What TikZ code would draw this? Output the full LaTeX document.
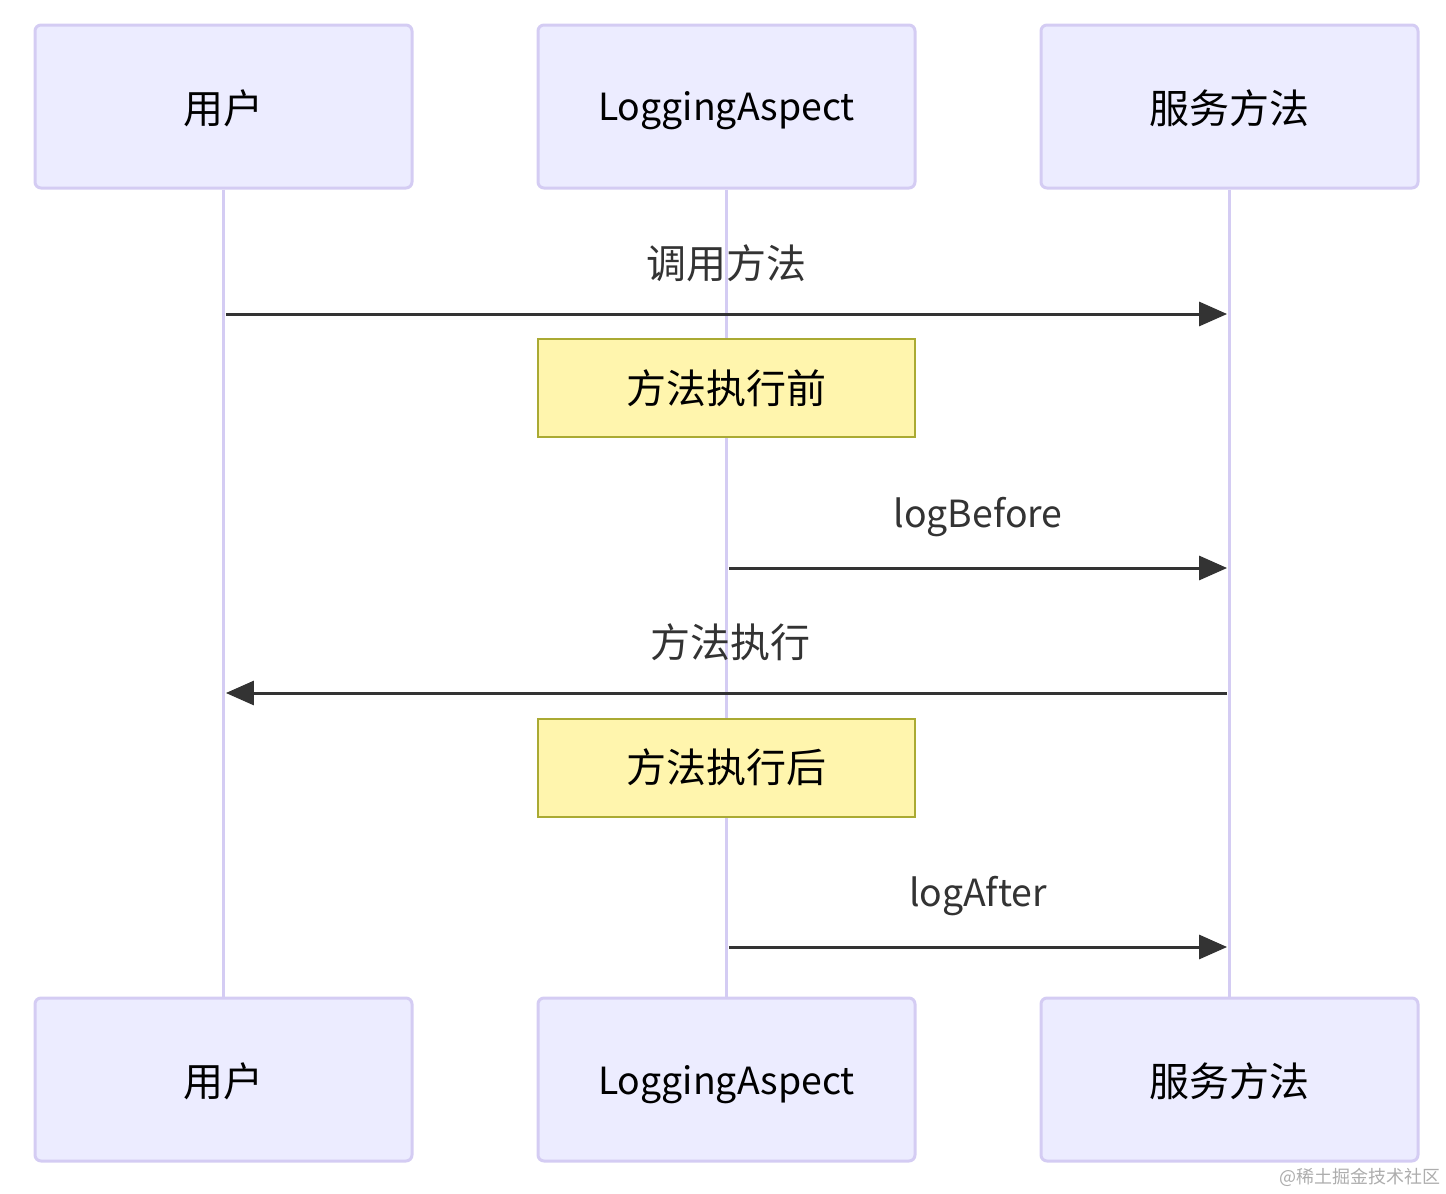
\documentclass[tikz,border=0pt]{standalone}
\usepackage{fontspec}
\setmainfont{Noto Sans CJK SC}
\usetikzlibrary{arrows.meta}
\definecolor{actorfill}{HTML}{ECECFF}
\definecolor{actorline}{HTML}{D4CCF3}
\definecolor{notefill}{HTML}{FFF5AD}
\definecolor{noteline}{HTML}{AAAA33}
\definecolor{msgline}{HTML}{333333}
\newcommand{\bigfont}{\fontsize{20}{24}\selectfont}
\newcommand{\latin}{\fontsize{18.7}{22}\selectfont}

\begin{document}
\begin{tikzpicture}[x=0.5pt,y=-0.5pt,node distance=251.5pt,
	actor/.style={draw=actorline,fill=actorfill,line width=1.5pt,rounded corners=3pt,minimum width=188.5pt,minimum height=81.5pt,font=\bigfont,text depth=0pt},
	note/.style={draw=noteline,fill=notefill,line width=1pt,minimum width=188.5pt,minimum height=49pt,font=\bigfont},
	life/.style={draw=actorline,line width=1.6pt},
	msg/.style={draw=msgline,line width=1.5pt,-{Triangle[length=14pt,width=12pt]},shorten <=1.2pt,shorten >=1.2pt},
	lbl/.style={font=\bigfont,text=msgline,yshift=25.5pt}]

\useasboundingbox (0,0) rectangle (1446,1194);

\node[actor](u1) at (223.5,106.5){用户};
\node[actor](la1)[right of=u1]{\latin LoggingAspect};
\node[actor](sm1)[right of=la1]{服务方法};
\node[actor](u2)[below of=u1,node distance=486.5pt]{用户};
\node[actor](la2)[right of=u2]{\latin LoggingAspect};
\node[actor](sm2)[right of=la2]{服务方法};

% lifelines
\draw[life](u1.south)--(u2.north);
\draw[life](la1.south)--(la2.north);
\draw[life](sm1.south)--(sm2.north);

% message heights
\coordinate(y1) at (0,314);
\coordinate(y2) at (0,568);
\coordinate(y3) at (0,693);
\coordinate(y4) at (0,947);

\node[note](n1) at (726.5,388){方法执行前};
\node[note](n2) at (726.5,767.5){方法执行后};

\path(u1|-y1)edge[msg] node[lbl]{调用方法}(sm1|-y1)
	 (la1|-y2)edge[msg] node[lbl]{\latin logBefore}(sm1|-y2)
	 (sm1|-y3)edge[msg] node[lbl,xshift=2pt]{方法执行}(u1|-y3)
	 (la1|-y4)edge[msg] node[lbl]{\latin logAfter}(sm1|-y4)
	 ;

\node[text=black!32,font=\fontsize{9}{11}\selectfont](wm) at (1360,1177){@稀土掘金技术社区};

\end{tikzpicture}
\end{document}
